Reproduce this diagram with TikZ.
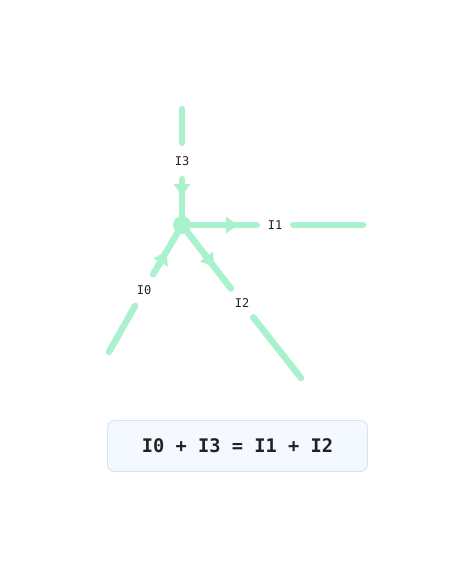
\documentclass[tikz,border=0pt]{standalone}
\usepackage{fontspec}
\setmonofont{DejaVu Sans Mono}
\usetikzlibrary{arrows.meta,calc}
\definecolor{wire}{HTML}{A9F2CD}
\definecolor{labeltext}{HTML}{222222}
\definecolor{boxfill}{HTML}{F3F9FE}
\definecolor{boxedge}{HTML}{CFE6F4}
\begin{document}
\begin{tikzpicture}[x=1pt,y=-1pt,
  wire/.style={draw=wire,line width=6.5pt,line cap=round},
  lbl/.style={circle,minimum size=36pt,inner sep=0pt,font=\ttfamily\fontsize{12}{14}\selectfont,text=labeltext},
  tipline/.style={draw=wire,line width=6.5pt,-{Triangle[length=12pt,width=16pt]}}]
\useasboundingbox (0,0) rectangle (474,576);
\node[circle,fill=wire,minimum size=18pt,inner sep=0pt] (J) at (182,225) {};
\coordinate (E3) at (182,109);
\coordinate (E1) at (363,225);
\coordinate (E0) at (109,352);
\coordinate (E2) at (301,378);
\node[lbl] (L3) at (182,161) {I3};
\node[lbl] (L1) at (275,225) {I1};
\node[lbl] (L0) at (144,290) {I0};
\node[lbl] (L2) at (242,303) {I2};
% I3
\draw[wire] (E3) -- (L3);
\draw[wire] (L3) -- (J.center);
\draw[tipline] ($(J)!45pt!(E3)$) -- ($(J)!29pt!(E3)$);
% I1
\draw[wire] (J.center) -- (L1);
\draw[wire] (L1) -- (E1);
\draw[tipline] ($(J)!40pt!(E1)$) -- ($(J)!56pt!(E1)$);
% I0
\draw[wire] (E0) -- (L0);
\draw[wire] (L0) -- (J.center);
\draw[tipline] ($(J)!47pt!(E0)$) -- ($(J)!31pt!(E0)$);
% I2
\draw[wire] (J.center) -- (L2);
\draw[wire] (L2) -- (E2);
\draw[tipline] ($(J)!36pt!(E2)$) -- ($(J)!52pt!(E2)$);
% equation
\node[draw=boxedge,fill=boxfill,rounded corners=7pt,line width=0.8pt,
  minimum width=260pt,minimum height=51pt,inner sep=0pt,text=labeltext,
  font=\ttfamily\bfseries\fontsize{18.7}{22}\selectfont] (eq) at (237.5,446) {I0 + I3 = I1 + I2};
\end{tikzpicture}
\end{document}
